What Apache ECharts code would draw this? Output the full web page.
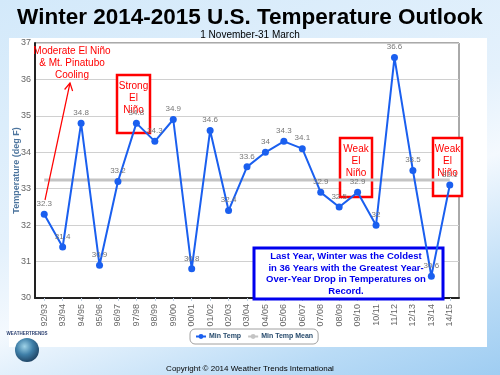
<!DOCTYPE html>
<html><head><meta charset="utf-8">
<script src="https://cdn.jsdelivr.net/npm/echarts@6/dist/echarts.min.js"></script>
<style>
html,body{margin:0;padding:0;}
body{width:500px;height:375px;background:linear-gradient(160deg,#d3e9fa 0%,#e4f1fc 45%,#f4f9fe 60%,#b9dbf6 85%,#9fcdf2 100%);}
#c{width:500px;height:375px;}
</style></head>
<body><div id="c"></div>
<script>
const categories = ['92/93','93/94','94/95','95/96','96/97','97/98','98/99','99/00','00/01','01/02','02/03','03/04','04/05','05/06','06/07','07/08','08/09','09/10','10/11','11/12','12/13','13/14','14/15'];
const minTemp = [32.3,31.4,34.8,30.9,33.2,34.8,34.3,34.9,30.8,34.6,32.4,33.6,34,34.3,34.1,32.9,32.5,32.9,32,36.6,33.5,30.6,33.1];
const minTempMean = [33.24,33.24,33.24,33.24,33.24,33.24,33.24,33.24,33.24,33.24,33.24,33.24,33.24,33.24,33.24,33.24,33.24,33.24,33.24,33.24,33.24,33.24,33.24];
const yTicks = [30,31,32,33,34,35,36,37];

const chart = echarts.init(document.getElementById('c'));
const red = '#ff0000';
const F = 'Liberation Sans';
chart.setOption({
  animation:false,
  textStyle:{fontFamily:F},
  graphic:[
    {type:'rect', shape:{x:9,y:38,width:478,height:309}, style:{fill:'#ffffff'}, z:-10},
    {type:'text', x:250, y:6, style:{text:'Winter 2014-2015 U.S. Temperature Outlook', fill:'#000', font:'bold 22.5px '+F, align:'center'}},
    {type:'text', x:250, y:30, style:{text:'1 November-31 March', fill:'#000', font:'10px '+F, align:'center'}},
    {type:'text', x:72, y:45, style:{text:'Moderate El Niño\n& Mt. Pinatubo\nCooling', fill:red, font:'10px '+F, align:'center', lineHeight:12}, z:20},
    {type:'line', shape:{x1:45,y1:200,x2:70,y2:83}, style:{stroke:red, lineWidth:1.2}, z:20},
    {type:'polyline', shape:{points:[[64.6,89.5],[70,83],[72.6,91]]}, style:{stroke:red, lineWidth:1.2, fill:null}, z:20},
    {type:'rect', shape:{x:117,y:75,width:33,height:58}, style:{fill:'#fff', stroke:red, lineWidth:2.5}, z:1},
    {type:'text', x:133.5, y:80, style:{text:'Strong\nEl\nNiño', fill:red, font:'10px '+F, align:'center', lineHeight:12}, z:20},
    {type:'rect', shape:{x:340,y:138,width:32,height:59}, style:{fill:'#fff', stroke:red, lineWidth:2.5}, z:1},
    {type:'text', x:356, y:143, style:{text:'Weak\nEl\nNiño', fill:red, font:'10px '+F, align:'center', lineHeight:12}, z:20},
    {type:'rect', shape:{x:433,y:138,width:29,height:58}, style:{fill:'#fff', stroke:red, lineWidth:2.5}, z:1},
    {type:'text', x:447.5, y:143, style:{text:'Weak\nEl\nNiño', fill:red, font:'10px '+F, align:'center', lineHeight:12}, z:20},
    {type:'rect', shape:{x:254,y:248,width:189,height:51}, style:{fill:'#fff', stroke:'#0000ee', lineWidth:3}, z:1},
    {type:'text', x:346, y:251, style:{text:'Last Year, Winter was the Coldest\nin 36 Years with the Greatest Year-\nOver-Year Drop in Temperatures on\nRecord.', fill:'#0000ee', font:'bold 9.5px '+F, align:'center', lineHeight:11.5}, z:10},
    {type:'text', x:250, y:365, style:{text:'Copyright © 2014 Weather Trends International', fill:'#000', font:'8px '+F, align:'center'}},
    {type:'circle', shape:{cx:27,cy:350,r:12}, style:{fill:new echarts.graphic.RadialGradient(0.4,0.35,0.7,[{offset:0,color:'#9fd3e8'},{offset:0.5,color:'#3f7fa8'},{offset:1,color:'#1d3f5e'}])}},
    {type:'text', x:27, y:331, style:{text:'WEATHERTRENDS', fill:'#2a3f70', font:'bold 4.5px '+F, align:'center'}}
  ],
  grid:{left:35, right:41, top:43, bottom:77, outerBoundsMode:'none', containLabel:false, show:true, borderColor:'#555', borderWidth:1, backgroundColor:'transparent'},
  legend:{
    left:190, top:329, itemWidth:10, itemHeight:6, itemGap:6,
    borderColor:'#a0a0a0', borderWidth:1, borderRadius:5, padding:[4,5],
    backgroundColor:'#fff',
    textStyle:{color:'#274b6d', fontSize:7, fontWeight:'bold', fontFamily:F, padding:[0,0,0,-2]},
    data:['Min Temp','Min Temp Mean']
  },
  xAxis:{
    type:'category', data:categories, boundaryGap:true,
    axisLine:{lineStyle:{color:'#222', width:2}},
    axisTick:{show:true, alignWithLabel:true, length:3, lineStyle:{color:'#c0d0e0'}},
    axisLabel:{rotate:90, color:'#666', fontSize:9, margin:6, interval:0}
  },
  yAxis:{
    type:'value', min:30, max:37, interval:1,
    name:'Temperature (deg F)', nameLocation:'middle', nameGap:14, nameMoveOverlap:false,
    nameTextStyle:{color:'#4d759e', fontSize:9, fontWeight:'bold'},
    axisLine:{show:true, lineStyle:{color:'#222', width:2}},
    axisLabel:{color:'#666', fontSize:9, margin:4, formatter:v => yTicks.includes(v) ? String(v) : ''},
    splitLine:{lineStyle:{color:'#d0d0d0', width:1}}
  },
  series:[
    {name:'Min Temp Mean', type:'line', data:minTempMean, symbol:'none', showSymbol:false,
     lineStyle:{color:'#c4c4c4', width:3}, itemStyle:{color:'#c4c4c4'}, z:2},
    {name:'Min Temp', type:'line', data:minTemp, symbol:'circle', symbolSize:7, zlevel:1,
     lineStyle:{color:'#1a5fef', width:2}, itemStyle:{color:'#1a5fef'},
     label:{show:true, position:'top', distance:3, color:'#777', fontSize:8}, z:3}
  ]
});
</script>
</body></html>
